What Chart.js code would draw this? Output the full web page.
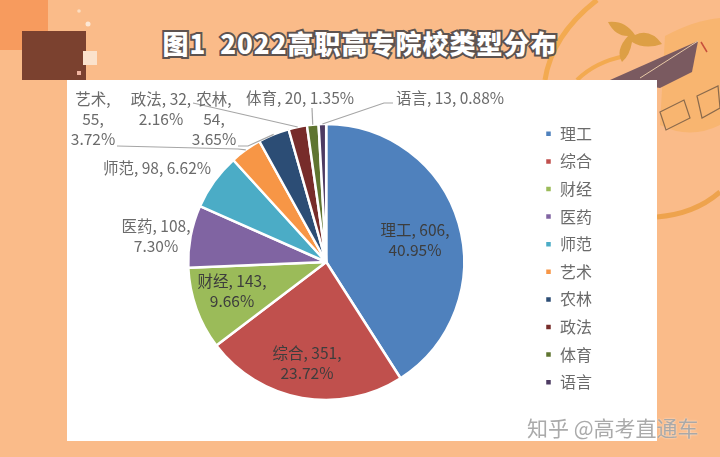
<!DOCTYPE html>
<html>
<head>
<meta charset="utf-8">
<script src="https://cdn.jsdelivr.net/npm/chart.js@4"></script>
<style>
    html, body { margin: 0; padding: 0; }
    body { width: 720px; height: 457px; overflow: hidden; position: relative; background: #fabb89; font-family: "Noto Sans CJK SC", sans-serif; }
    #deco { position: absolute; left: 0; top: 0; }
    #titulo { position: absolute; left: 0; top: 24px; width: 720px; text-align: center; font: 900 26px "Noto Sans CJK SC", sans-serif; color: #fff; -webkit-text-stroke: 4px #5d5350; paint-order: stroke fill; white-space: pre; letter-spacing: 1px; }
    #card { position: absolute; left: 67px; top: 80px; width: 590px; height: 361px; background: #fff; }
    #marca { position: absolute; left: 527px; top: 412px; font: 21px "Noto Sans CJK SC", sans-serif; line-height: 30px; color: rgba(165,165,165,0.95); text-shadow: 0 0 2px rgba(255,255,255,0.8); white-space: pre; }
</style>
</head>
<body>
<svg id="deco" width="720" height="457">
    <rect x="0" y="0" width="48" height="50" fill="#f79b5e"/>
    <rect x="22" y="31" width="64" height="49" fill="#7b412f"/>
    <rect x="83" y="51" width="14" height="14" fill="#fbe2cc"/>
    <circle cx="88" cy="24" r="2.5" fill="#fde8d6"/>
    <circle cx="79" cy="11" r="1.8" fill="#fcdcc0"/>
    <rect x="77" y="71" width="4" height="4" fill="#f0b4a0"/>
    <path d="M597 0 Q 552 35 545 80" fill="none" stroke="#f3aa50" stroke-width="5"/>
    <path d="M577 80 Q 595 62 625 56" fill="none" stroke="#f3aa50" stroke-width="4"/>
    <path d="M665 36 Q 695 20 720 18 L720 125 Q 690 140 660 125 Z" fill="#f8b570"/>
    <path d="M657 217 Q 695 214 720 192" fill="none" stroke="#eea34d" stroke-width="5"/>
    <path d="M608 22 Q 625 20 635 35 Q 650 28 662 44 Q 645 50 632 42 Q 630 55 622 62 Q 615 50 628 36 Q 615 36 608 22 Z" fill="#dd9f45"/>
    <path d="M610 80 L698 41 L692 72 L660 88 L610 80 Z" fill="#7a5a60"/>
    <path d="M640 78 L698 41" stroke="#e8c9a6" stroke-width="1" fill="none"/>
    <path d="M701 42 L707 52" stroke="#c8503c" stroke-width="1.5" fill="none"/>
    <g fill="none" stroke="#8a6a4c" stroke-width="1.2">
        <path d="M660 112 L684 100 L690 118 L666 130 Z"/>
        <path d="M697 96 L718 86 L720 108 L702 118 Z"/>
    </g>
</svg>
<div id="titulo">图1  2022高职高专院校类型分布</div>
<div id="card"><canvas id="grafico" width="590" height="361"></canvas></div>
<div id="marca">知乎 @高考直通车</div>

<script>
const categorias = ['理工', '综合', '财经', '医药', '师范', '艺术', '农林', '政法', '体育', '语言'];
const valores = [606, 351, 143, 108, 98, 55, 54, 32, 20, 13];
const percentuais = ['40.95%', '23.72%', '9.66%', '7.30%', '6.62%', '3.72%', '3.65%', '2.16%', '1.35%', '0.88%'];
const cores = ['#4f81bd', '#c0504d', '#9bbb59', '#8064a2', '#4bacc6', '#f79646', '#2c4d75', '#772c2a', '#5f7530', '#4d3b62'];

// Como cada rótulo quebra as linhas: 0 = tudo junto, 1 = nome+valor / pct, 2 = três linhas
const quebras = [1, 1, 1, 1, 0, 2, 2, 1, 0, 0];
// Centro do rótulo (página) e início da linha guia
const posRotulos = [
    [415, 230], [307, 353], [232, 281], [156, 226], [157, 168],
    [93, 99], [214, 99], [161, 99], [300, 98], [450, 98]
];
const guias = {
    5: [[117, 146], [238, 149]],
    6: [[238, 146], [248, 146]],
    7: [[193, 103]],
    8: [[312, 108]],
    9: [[393, 103], [384, 103]]
};
const ALTURA_LINHA = 20;
const COR_TEXTO = '#6b6b6b';
const COR_TEXTO_FATIA = '#3d3d3d'; // rótulos dentro da pizza
const OFFSET_X = 67, OFFSET_Y = 80; // canto do cartão na página

const rotulosPlugin = {
    id: 'rotulos',
    afterDatasetsDraw(chart) {
        const ctx = chart.ctx;
        const arcos = chart.getDatasetMeta(0).data;
        ctx.save();

        // Linhas guia até a borda da fatia
        ctx.strokeStyle = '#a6a6a6';
        ctx.lineWidth = 1.2;
        Object.keys(guias).forEach(k => {
            const arco = arcos[k];
            const meio = (arco.startAngle + arco.endAngle) / 2;
            const pontaX = arco.x + Math.cos(meio) * arco.outerRadius;
            const pontaY = arco.y + Math.sin(meio) * arco.outerRadius;
            ctx.beginPath();
            guias[k].forEach((p, i) => {
                if (i === 0) ctx.moveTo(p[0] - OFFSET_X, p[1] - OFFSET_Y);
                else ctx.lineTo(p[0] - OFFSET_X, p[1] - OFFSET_Y);
            });
            ctx.lineTo(pontaX, pontaY);
            ctx.stroke();
        });

        // Texto
        ctx.font = '15.5px "Noto Sans CJK SC", sans-serif';
        ctx.textAlign = 'center';
        ctx.textBaseline = 'middle';
        categorias.forEach((cat, i) => {
            let linhas;
            if (quebras[i] === 0) linhas = [`${cat}, ${valores[i]}, ${percentuais[i]}`];
            else if (quebras[i] === 1) linhas = [`${cat}, ${valores[i]},`, percentuais[i]];
            else linhas = [`${cat},`, `${valores[i]},`, percentuais[i]];
            // os três primeiros ficam sobre as fatias
            ctx.fillStyle = i < 3 ? COR_TEXTO_FATIA : COR_TEXTO;
            linhas.forEach((txt, n) => {
                ctx.fillText(txt, posRotulos[i][0] - OFFSET_X, posRotulos[i][1] - OFFSET_Y + n * ALTURA_LINHA);
            });
        });
        ctx.restore();
    }
};

new Chart(document.getElementById('grafico').getContext('2d'), {
    type: 'pie',
    data: {
        labels: categorias,
        datasets: [{
            data: valores,
            backgroundColor: cores,
            borderColor: '#ffffff',
            borderWidth: 2.5,
            radius: 138
        }]
    },
    options: {
        responsive: false,
        animation: false,
        layout: { padding: { left: 52, right: 55, top: 3, bottom: 0 } },
        plugins: {
            tooltip: { enabled: false },
            legend: {
                position: 'right',
                align: 'start',
                // título vazio só para empurrar os itens para baixo
                title: { display: true, text: ' ', font: { size: 1 }, padding: { top: 30, bottom: 0 } },
                labels: {
                    boxWidth: 7,
                    boxHeight: 7,
                    padding: 11.6,
                    color: COR_TEXTO,
                    font: { size: 16, family: '"Noto Sans CJK SC", sans-serif' }
                }
            }
        }
    },
    plugins: [rotulosPlugin]
});
</script>
</body>
</html>
